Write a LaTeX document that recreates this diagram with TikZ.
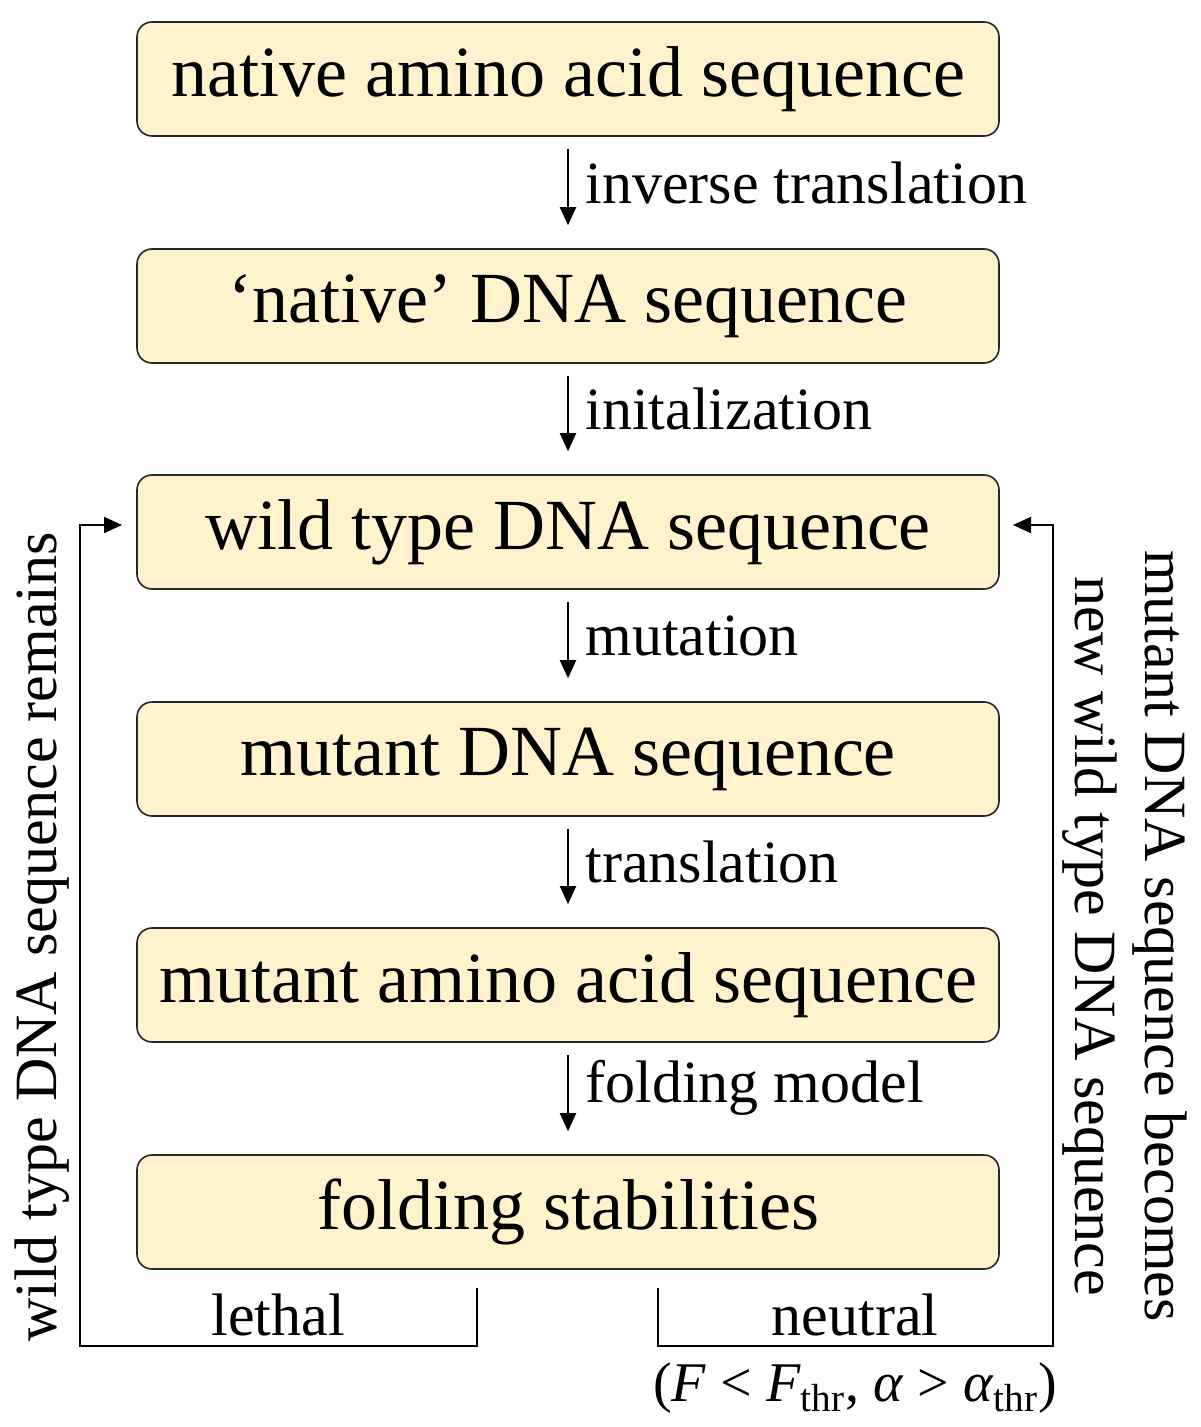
\documentclass[tikz,border=0pt]{standalone}
\usepackage{fontspec}
\setmainfont{Liberation Serif}
\usetikzlibrary{arrows.meta}
\definecolor{boxfill}{RGB}{255,242,204}
\begin{document}
\begin{tikzpicture}[x=0.5pt,y=-0.5pt,
  box/.style={draw=black!85, line width=0.8pt, fill=boxfill, rounded corners=7.5pt,
    minimum width=431pt, minimum height=57pt, inner sep=0pt,
    font=\fontsize{36}{40}\selectfont},
  lbl/.style={anchor=west, inner sep=0pt, font=\fontsize{30}{34}\selectfont},
  side/.style={inner sep=0pt, font=\fontsize{30}{34}\selectfont},
  arr/.style={line width=1pt, -{Triangle[length=9pt,width=8pt]}}]
\useasboundingbox (0,0) rectangle (1200,1427);

\node[box] (b1) at (568,79)   {native amino acid sequence};
\node[box] (b2) at (568,306)  {‘native’ DNA sequence};
\node[box] (b3) at (568,532)  {wild type DNA sequence};
\node[box] (b4) at (568,759)  {mutant DNA sequence};
\node[box] (b5) at (568,985)  {mutant amino acid sequence};
\node[box] (b6) at (568,1212) {folding stabilities};

\draw[arr] ([yshift=-6pt]b1.south) -- ([yshift=11.5pt]b2.north);
\draw[arr] ([yshift=-6pt]b2.south) -- ([yshift=11.5pt]b3.north);
\draw[arr] ([yshift=-6pt]b3.south) -- ([yshift=11.5pt]b4.north);
\draw[arr] ([yshift=-6pt]b4.south) -- ([yshift=11.5pt]b5.north);
\draw[arr] ([yshift=-6pt]b5.south) -- ([yshift=11.5pt]b6.north);

\node[lbl] (l1) at (585,183)  {inverse translation};
\node[lbl] (l2) at (585,409)  {initalization};
\node[lbl] (l3) at (585,636)  {mutation};
\node[lbl] (l4) at (585,862)  {translation};
\node[lbl] (l5) at (585,1088) {folding model};

\coordinate (lt) at (477,1288);
\coordinate (lb) at (80,1346);
\coordinate (la) at (122,525);
\coordinate (nt) at (658,1288);
\coordinate (nb) at (1053,1346);
\coordinate (na) at (1013,525);

\draw[arr] (lt) |- (lb) |- (la);
\draw[arr] (nt) |- (nb) |- (na);

\node[side] (leth) at (278,1315) {lethal};
\node[side] (neut) at (855,1315) {neutral};
\node[inner sep=0pt, font=\fontsize{28}{32}\selectfont] (cond) at (855,1388)
  {(\textit{F} < \textit{F}\textsubscript{thr}, \textit{α} > \textit{α}\textsubscript{thr})};

\node[side, rotate=90]  (remain) at (42,937)   {wild type DNA sequence remains};
\node[side, rotate=-90] (newwt)  at (1090,936) {new wild type DNA sequence};
\node[side, rotate=-90] (becom)  at (1160,936) {mutant DNA sequence becomes};
\end{tikzpicture}
\end{document}
